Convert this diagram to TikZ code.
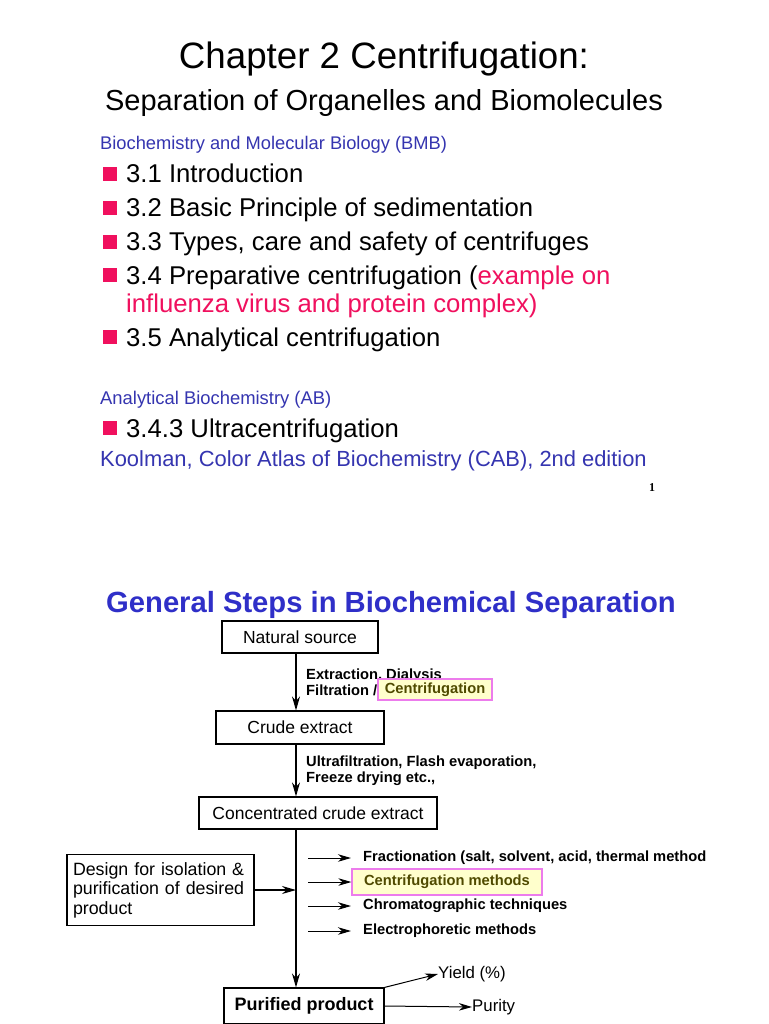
\documentclass[tikz,border=0pt]{standalone}
\usepackage{fontspec}
\setsansfont{Liberation Sans}
\setmainfont{Liberation Serif}
\usepackage{xcolor}
\usetikzlibrary{arrows.meta}
\definecolor{slideink}{HTML}{000000}
\definecolor{refblue}{HTML}{3535B0}
\definecolor{headblue}{HTML}{2F2FC8}
\definecolor{notepink}{HTML}{F0105E}
\definecolor{markborder}{HTML}{EC7CEC}
\definecolor{markfill}{HTML}{FFFFCC}
\definecolor{marktext}{HTML}{4F4A00}

\newcommand{\pxfont}[1]{\fontsize{#1}{1.1\dimexpr#1pt\relax}\selectfont}

\begin{document}
\begin{tikzpicture}[
  x=1pt,y=-1pt,
  font=\sffamily,
  text=slideink,
  arr/.style={
    -{Stealth[length=14pt,width=8pt]},
    line width=1.1pt
  },
  smallarr/.style={
    -{Stealth[length=13pt,width=7.5pt,inset=4pt]},
    line width=1pt
  },
  stepbox/.style={
    rectangle,
    draw=black,
    fill=white,
    line width=1.2pt,
    inner sep=2pt,
    align=center,
    font=\sffamily\pxfont{17.5}
  },
  hint/.style={
    anchor=base west,
    inner sep=0pt,
    font=\sffamily\bfseries\pxfont{14.7}
  },
  marked/.style={
    rectangle,
    draw=markborder,
    fill=markfill,
    text=marktext,
    line width=1.3pt,
    inner sep=0pt,
    font=\sffamily\bfseries\pxfont{14.7}
  },
  item/.style={
    anchor=base west,
    inner sep=0pt,
    font=\sffamily\pxfont{25.7}
  },
  bullet/.style={
    fill=notepink,
    minimum size=14pt,
    inner sep=0pt
  },
  source/.style={
    anchor=base west,
    inner sep=0pt,
    text=refblue
  }
]

\useasboundingbox[fill=white] (0,0) rectangle (768,1024);

% ------------------------------------------------------------
% Slide 1: chapter outline
% ------------------------------------------------------------

\node[anchor=base,inner sep=0pt,font=\sffamily\pxfont{36.7}]
  (chaptertitle) at (384,69) {Chapter 2 Centrifugation:};
\node[anchor=base,inner sep=0pt,font=\sffamily\pxfont{29}]
  (chaptersub) at (384,111) {Separation of Organelles and Biomolecules};

\node[source,font=\sffamily\pxfont{18.3}]
  (bmb) at (100,150) {Biochemistry and Molecular Biology (BMB)};

\foreach \y/\t [count=\i] in {
    183/{3.1 Introduction},
    217/{3.2 Basic Principle of sedimentation},
    251/{3.3 Types, care and safety of centrifuges},
    284/{3.4 Preparative centrifugation (\textcolor{notepink}{example on}},
    346/{3.5 Analytical centrifugation}}{
  \node[bullet] (dot\i) at (110,\y-9) {};
  \node[item] (topic\i) at (126,\y) {\t};
}
\node[item,text=notepink]
  (topic4b) at (126,312) {influenza virus and protein complex)};

\node[source,font=\sffamily\pxfont{18.4}]
  (ab) at (100,404) {Analytical Biochemistry (AB)};
\node[bullet] (dot6) at (110,428) {};
\node[item] (topic6) at (126,437) {3.4.3 Ultracentrifugation};
\node[source,font=\sffamily\pxfont{21.9}]
  (cab) at (100,466) {Koolman, Color Atlas of Biochemistry (CAB), 2nd edition};

\node[anchor=base,inner sep=0pt,font=\rmfamily\bfseries\pxfont{12}]
  (pageno) at (652,491) {1};

% ------------------------------------------------------------
% Slide 2: separation flow chart
% ------------------------------------------------------------

\node[anchor=base,inner sep=0pt,text=headblue,
      font=\sffamily\bfseries\pxfont{29.2}]
  (flowtitle) at (391,612) {General Steps in Biochemical Separation};

\coordinate (spine) at (296,0);

\node[stepbox,minimum width=156pt,minimum height=32pt]
  (natural) at (300,637) {Natural source};
\node[stepbox,minimum width=168pt,minimum height=33pt]
  (crude) at (300,727.5) {Crude extract};
\node[stepbox,minimum width=238pt,minimum height=32pt]
  (concentrated) at (318,813) {Concentrated crude extract};
\node[stepbox,minimum height=71pt,align=left,
      text width=175pt,inner xsep=6pt,font=\sffamily\pxfont{17.8}]
  (design) at (160.5,890)
  {Design for isolation \&\\purification of desired\\product};
\node[stepbox,minimum width=160pt,minimum height=36pt,
      font=\sffamily\bfseries\pxfont{18}]
  (purified) at (304,1006) {Purified product};

\draw[arr] (natural.south -| spine) -- (crude.north -| spine);
\node[hint] (extraction) at (306,679) {Extraction, Dialysis};
\node[hint] (filtration) at (306,695) {Filtration /};
\node[marked,minimum width=114pt,minimum height=21pt]
  (markone) at (435,689.5) {Centrifugation};

\draw[arr] (crude.south -| spine) -- (concentrated.north -| spine);
\node[hint] (ultra) at (306,766) {Ultrafiltration, Flash evaporation,};
\node[hint] (freeze) at (306,782) {Freeze drying etc.,};

\draw[arr] (concentrated.south -| spine) -- (purified.north -| spine);
\draw[arr] (design.east) -- (design.east -| spine);

% methods branching off the main line
\foreach \y/\t [count=\i] in {
    858/{Fractionation (salt, solvent, acid, thermal method},
    906/{Chromatographic techniques},
    931/{Electrophoretic methods}}{
  \coordinate (from\i) at (308,\y);
  \node[anchor=west,inner sep=0pt,font=\sffamily\bfseries\pxfont{14.7}]
    (method\i) at (363,\y) {\t};
  \draw[smallarr] (from\i) -- (351,\y);
}
\coordinate (fromc) at (308,882);
\node[marked,minimum width=190pt,minimum height=26pt]
  (marktwo) at (447,882) {Centrifugation methods};
\draw[smallarr] (fromc) -- (marktwo.west);

% results
\node[anchor=west,inner sep=0pt,font=\sffamily\pxfont{16.8}]
  (yield) at (438,974) {Yield (\%)};
\node[anchor=west,inner sep=0pt,font=\sffamily\pxfont{16.8}]
  (purity) at (472,1007) {Purity};
\draw[smallarr] (purified.north east) -- (yield.west);
\draw[smallarr] (purified.east) -- (purity.west);
\end{tikzpicture}
\end{document}
